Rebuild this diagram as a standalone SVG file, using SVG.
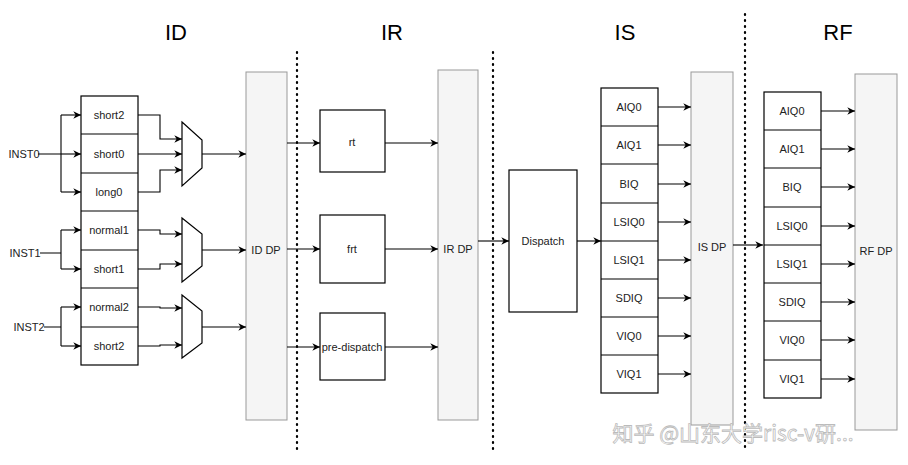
<svg xmlns="http://www.w3.org/2000/svg" width="908" height="465" viewBox="0 0 908 465">
<defs>
<marker id="a" viewBox="0 0 10 10" refX="10" refY="5" markerWidth="7" markerHeight="7" orient="auto"><path d="M0,0 L10,5 L0,10 L3,5 Z" fill="#000"/></marker>
<style>
text{font-family:"Liberation Sans",Arial,sans-serif;font-size:11px;fill:#222;text-anchor:middle;dominant-baseline:central}
.t{font-size:22px;fill:#000}
.b{fill:#fff;stroke:#000;stroke-width:1.2}
.dp{fill:#f5f5f5;stroke:#999;stroke-width:1}
.c{fill:none;stroke:#000;stroke-width:1.1;marker-end:url(#a)}
.l{fill:none;stroke:#000;stroke-width:1.1}
.d{stroke:#000;stroke-width:2.2;stroke-dasharray:1 5;stroke-linecap:round}
</style>
</defs>
<rect width="908" height="465" fill="#fff"/>
<g id="titles"><text class="t" x="176" y="32">ID</text><text class="t" x="392" y="32">IR</text><text class="t" x="625" y="32">IS</text><text class="t" x="838" y="32">RF</text></g>
<g id="separators"><line class="d" x1="297" y1="52" x2="297" y2="450"/><line class="d" x1="493" y1="52" x2="493" y2="450"/><line class="d" x1="745" y1="14" x2="745" y2="450"/></g>
<g id="id-stack">
<rect class="b" x="81" y="96" width="57" height="269"/>
<path class="l" d="M81,134H138M81,173H138M81,211H138M81,250H138M81,288H138M81,327H138"/>
<text x="109" y="115">short2</text><text x="109" y="154">short0</text><text x="109" y="192">long0</text><text x="109" y="230">normal1</text><text x="109" y="269">short1</text><text x="109" y="307">normal2</text><text x="109" y="346">short2</text>
</g>
<g id="inputs"><text x="24" y="154">INST0</text><text x="25" y="253">INST1</text><text x="29" y="327">INST2</text></g>
<g id="muxes">
<path class="b" d="M182,122L202,140V168L182,186Z"/>
<path class="b" d="M182,218L202,234V266L182,282Z"/>
<path class="b" d="M182,295L202,311V343L182,358Z"/>
</g>
<g id="id-dp"><rect class="dp" x="246" y="72" width="41" height="348"/><text x="266" y="250">ID DP</text></g>
<g id="rt"><rect class="b" x="320" y="110" width="65" height="62"/><text x="352" y="142">rt</text></g>
<g id="frt"><rect class="b" x="320" y="215" width="65" height="68"/><text x="352" y="249">frt</text></g>
<g id="pre-dispatch"><rect class="b" x="320" y="313" width="65" height="67"/><text x="352" y="347">pre-dispatch</text></g>
<g id="ir-dp"><rect class="dp" x="438" y="70" width="40" height="350"/><text x="458" y="249">IR DP</text></g>
<g id="dispatch"><rect class="b" x="509" y="170" width="68" height="142"/><text x="543" y="241">Dispatch</text></g>
<g id="is-stack">
<rect class="b" x="601" y="88" width="57" height="305"/>
<path class="l" d="M601,126H658M601,164H658M601,203H658M601,241H658M601,279H658M601,317H658M601,355H658"/>
<text x="629" y="107">AIQ0</text><text x="629" y="145">AIQ1</text><text x="629" y="184">BIQ</text><text x="629" y="222">LSIQ0</text><text x="629" y="260">LSIQ1</text><text x="629" y="298">SDIQ</text><text x="629" y="336">VIQ0</text><text x="629" y="374">VIQ1</text>
</g>
<g id="is-dp"><rect class="dp" x="691" y="72" width="42" height="353"/><text x="712" y="247">IS DP</text></g>
<g id="rf-stack">
<rect class="b" x="764" y="92" width="57" height="306"/>
<path class="l" d="M764,130H821M764,168H821M764,207H821M764,245H821M764,283H821M764,321H821M764,360H821"/>
<text x="792" y="111">AIQ0</text><text x="792" y="149">AIQ1</text><text x="792" y="187">BIQ</text><text x="792" y="226">LSIQ0</text><text x="792" y="264">LSIQ1</text><text x="792" y="302">SDIQ</text><text x="792" y="340">VIQ0</text><text x="792" y="379">VIQ1</text>
</g>
<g id="rf-dp"><rect class="dp" x="855" y="74" width="42" height="356"/><text x="876" y="251">RF DP</text></g>
<g id="connectors">
<path class="l" d="M38,154H61M61,115V192"/>
<path class="c" d="M61,115H81"/><path class="c" d="M61,154H81"/><path class="c" d="M61,192H81"/>
<path class="l" d="M40,253H61M61,230V269"/>
<path class="c" d="M61,230H81"/><path class="c" d="M61,269H81"/>
<path class="l" d="M44,327H61M61,307V346"/>
<path class="c" d="M61,307H81"/><path class="c" d="M61,346H81"/>
<path class="c" d="M138,115H160V139H182"/><path class="c" d="M138,154H182"/><path class="c" d="M138,192H160V170H182"/>
<path class="c" d="M138,230H160V234H182"/><path class="c" d="M138,269H160V264H182"/>
<path class="c" d="M138,307H160V308H182"/><path class="c" d="M138,346H160V345H182"/>
<path class="c" d="M202,154H246"/><path class="c" d="M202,250H246"/><path class="c" d="M202,327H246"/>
<path class="c" d="M287,143H320"/><path class="c" d="M287,249H320"/><path class="c" d="M287,347H320"/>
<path class="c" d="M385,143H438"/><path class="c" d="M385,249H438"/><path class="c" d="M385,347H438"/>
<path class="c" d="M478,241H509"/><path class="c" d="M577,241H601"/>
<path class="c" d="M658,107H691"/><path class="c" d="M658,145H691"/><path class="c" d="M658,184H691"/><path class="c" d="M658,222H691"/><path class="c" d="M658,260H691"/><path class="c" d="M658,298H691"/><path class="c" d="M658,336H691"/><path class="c" d="M658,374H691"/>
<path class="c" d="M733,245H763"/>
<path class="c" d="M821,111H855"/><path class="c" d="M821,149H855"/><path class="c" d="M821,187H855"/><path class="c" d="M821,226H855"/><path class="c" d="M821,264H855"/><path class="c" d="M821,302H855"/><path class="c" d="M821,340H855"/><path class="c" d="M821,379H855"/>
</g>
<text x="733" y="432" style="font-family:'Noto Sans CJK SC','Liberation Sans',sans-serif;font-size:21px;fill:#fff;stroke:#bbb;stroke-width:0.8">知乎 @山东大学risc-v研...</text>
</svg>
